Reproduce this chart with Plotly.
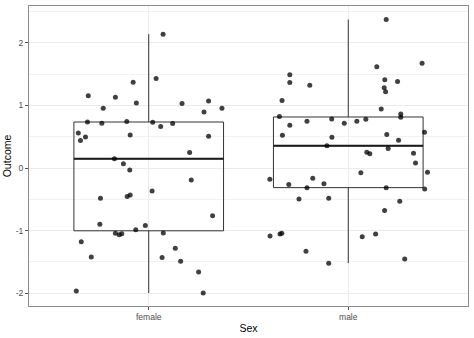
import plotly.graph_objects as go

# Categories and their positions on the numeric x axis
categories = ["female", "male"]
cat_pos = [1, 2]

# Jittered observations: horizontal offset from the category centre, and outcome value
female_offset = [0.072, 0.037, -0.078, -0.303, -0.167, -0.062, 0.167, 0.300, -0.228, 0.277,
                 0.367, -0.307, -0.235, -0.110, 0.020, 0.060, 0.120, -0.353, -0.342, -0.317,
                 -0.093, 0.300, 0.205, -0.172, -0.127, -0.095, 0.213, 0.017, -0.242, -0.108,
                 -0.093, 0.320, -0.245, -0.017, -0.065, -0.167, -0.148, -0.135, 0.073, -0.338,
                 -0.288, 0.133, 0.067, 0.160, 0.250, -0.363, 0.273]
female_y = [2.14, 1.43, 1.37, 1.156, 1.13, 1.04, 1.03, 1.07, 0.954, 0.895,
            0.954, 0.736, 0.715, 0.742, 0.731, 0.663, 0.71, 0.561, 0.44, 0.498,
            0.53, 0.509, 0.25, 0.148, 0.068, -0.032, -0.19, -0.366, -0.482, -0.456,
            -0.429, -0.763, -0.90, -0.917, -0.986, -1.044, -1.065, -1.049, -1.04, -1.18,
            -1.42, -1.28, -1.43, -1.49, -1.66, -1.966, -1.998]

male_offset = [0.190, 0.370, 0.143, -0.293, -0.293, -0.193, 0.183, 0.247, 0.180, 0.187,
               -0.332, 0.165, 0.263, 0.263, -0.345, -0.207, -0.083, -0.020, 0.043, 0.088,
               -0.293, 0.382, -0.330, -0.082, 0.193, 0.252, -0.107, 0.200, 0.093, 0.108,
               0.327, 0.337, 0.063, 0.397, -0.393, -0.178, -0.298, -0.207, -0.122, 0.190,
               0.383, -0.247, -0.098, 0.258, 0.182, -0.392, -0.342, -0.333, 0.070, 0.137,
               -0.212, -0.098, 0.283]
male_y = [2.374, 1.674, 1.62, 1.49, 1.367, 1.325, 1.41, 1.383, 1.283, 1.219,
          1.08, 0.943, 0.864, 0.811, 0.822, 0.747, 0.784, 0.715, 0.747, 0.779,
          0.684, 0.572, 0.525, 0.493, 0.535, 0.445, 0.355, 0.313, 0.254, 0.228,
          0.238, 0.079, -0.074, -0.069, -0.18, -0.164, -0.265, -0.313, -0.25, -0.313,
          -0.334, -0.493, -0.482, -0.53, -0.678, -1.086, -1.054, -1.044, -1.097, -1.054,
          -1.33, -1.52, -1.452]

# Box summary statistics per category
box_q1 = [-1.003, -0.313]
box_median = [0.148, 0.355]
box_q3 = [0.736, 0.816]
box_lower = [-1.998, -1.52]
box_upper = [2.14, 2.374]
box_width = 0.75

y_ticks = [-2, -1, 0, 1, 2]
y_ticklabels = ["-2", "-1", "0", "1", "2"]

FONT = "Liberation Sans, Arial, sans-serif"

fig = go.Figure()

fig.add_trace(go.Box(
    x=cat_pos, q1=box_q1, median=box_median, q3=box_q3,
    lowerfence=box_lower, upperfence=box_upper,
    width=box_width, boxpoints=False, whiskerwidth=0,
    fillcolor="rgba(255,255,255,0)",
    line=dict(color="#333333", width=1),
    hoverinfo="skip", showlegend=False,
))

# Thicker median bars drawn over the boxes
for p, m in zip(cat_pos, box_median):
    fig.add_trace(go.Scatter(
        x=[p - box_width / 2, p + box_width / 2], y=[m, m], mode="lines",
        line=dict(color="#1a1a1a", width=2), hoverinfo="skip", showlegend=False,
    ))

for p, offs, ys in ((cat_pos[0], female_offset, female_y), (cat_pos[1], male_offset, male_y)):
    fig.add_trace(go.Scatter(
        x=[p + o for o in offs], y=ys, mode="markers",
        marker=dict(color="rgba(0,0,0,0.75)", size=5, line=dict(width=0)),
        showlegend=False,
    ))

fig.update_layout(
    width=474, height=338,
    margin=dict(l=29, r=6, t=5, b=31),
    paper_bgcolor="white", plot_bgcolor="white",
    font=dict(family=FONT, color="#4d4d4d", size=8.5),
    xaxis=dict(
        range=[0.4, 2.6], tickvals=cat_pos, ticktext=categories,
        showgrid=True, gridcolor="#ebebeb", gridwidth=1,
        zeroline=False, showline=True, mirror=True, linecolor="#8c8c8c", linewidth=1,
        ticks="outside", ticklen=3, tickcolor="#555555", tickwidth=1,
        tickfont=dict(size=8.5, color="#4d4d4d"),
        title=dict(text="Sex", font=dict(size=10.5, color="black"), standoff=3),
    ),
    yaxis=dict(
        range=[-2.205, 2.59], tickvals=y_ticks, ticktext=y_ticklabels,
        showgrid=True, gridcolor="#ebebeb", gridwidth=1,
        minor=dict(dtick=0.5, tick0=0.5, showgrid=True, gridcolor="#f2f2f2", gridwidth=0.6),
        zeroline=False, showline=True, mirror=True, linecolor="#8c8c8c", linewidth=1,
        ticks="outside", ticklen=3, tickcolor="#555555", tickwidth=1,
        tickfont=dict(size=8.5, color="#4d4d4d"),
        title=dict(text="Outcome", font=dict(size=10.5, color="black"), standoff=2),
    ),
)

fig.write_html("out.html")
